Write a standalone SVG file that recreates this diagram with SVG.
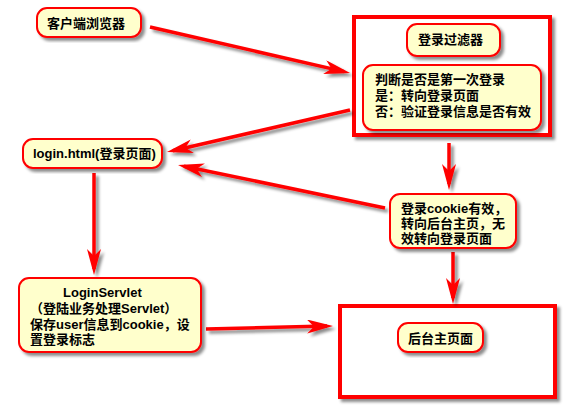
<svg xmlns="http://www.w3.org/2000/svg" width="576" height="413" viewBox="0 0 576 413">
<defs>
<filter id="sh" x="-20%" y="-20%" width="140%" height="140%">
<feDropShadow dx="3" dy="3" stdDeviation="1.5" flood-color="#000" flood-opacity="0.45"/>
</filter>
<marker id="ah" viewBox="0 0 26 14" markerWidth="26" markerHeight="14" refX="20" refY="7" orient="auto" markerUnits="userSpaceOnUse">
<path d="M26,7 L0,0 L7,7 L0,14 Z" fill="#ff0000"/>
</marker>
</defs>
<style>
.node{fill:#ffffcc;stroke:#ff0000;stroke-width:2;filter:url(#sh)}
.frame{fill:#ffffff;stroke:#ff0000;stroke-width:4;filter:url(#sh)}
.t{font-family:"Liberation Sans","Noto Sans CJK SC",sans-serif;font-weight:bold;font-size:13px;fill:#000}
.c{fill:none;stroke:#ff0000;stroke-width:3.5;marker-end:url(#ah)}
</style>
<rect width="576" height="413" fill="#ffffff"/>
<g id="filterFrame"><rect class="frame" x="354" y="17" width="196" height="118"/></g>
<g id="homeFrame"><rect class="frame" x="340" y="306" width="215" height="91"/></g>
<g id="connectors" filter="url(#sh)">
<path class="c" d="M150,27 L344.2,71.65"/>
<path class="c" d="M350,110 L172.8,150.7"/>
<path class="c" d="M385,208 L183.9,166.2"/>
<path class="c" d="M94,173 L94,269"/>
<path class="c" d="M206,329 L327,326.1"/>
<path class="c" d="M449,143 L449,184"/>
<path class="c" d="M453,252 L453,298"/>
</g>
<g id="browser"><rect class="node" x="37" y="8" width="104" height="29" rx="10"/><text class="t" x="47" y="28">客户端浏览器</text></g>
<g id="filter"><rect class="node" x="407" y="24" width="93" height="32" rx="10"/><text class="t" x="418" y="44">登录过滤器</text></g>
<g id="check"><rect class="node" x="363" y="65" width="178" height="65" rx="10"/>
<text class="t" x="375" y="84">判断是否是第一次登录</text>
<text class="t" x="375" y="100">是：转向登录页面</text>
<text class="t" x="375" y="116">否：验证登录信息是否有效</text></g>
<g id="login"><rect class="node" x="23" y="139" width="139" height="29" rx="10"/><text class="t" x="33" y="158">login.html(登录页面)</text></g>
<g id="servlet"><rect class="node" x="19" y="278" width="182" height="74" rx="10"/>
<text class="t" x="63" y="297">LoginServlet</text>
<text class="t" x="30" y="313">（登陆业务处理Servlet）</text>
<text class="t" x="30" y="329">保存user信息到cookie，设</text>
<text class="t" x="30" y="344">置登录标志</text></g>
<g id="cookie"><rect class="node" x="390" y="194" width="126" height="54" rx="10"/>
<text class="t" x="401" y="213">登录cookie有效，</text>
<text class="t" x="401" y="228">转向后台主页，无</text>
<text class="t" x="401" y="243">效转向登录页面</text></g>
<g id="home"><rect class="node" x="398" y="323" width="85" height="29" rx="10"/><text class="t" x="408" y="343">后台主页面</text></g>
</svg>
